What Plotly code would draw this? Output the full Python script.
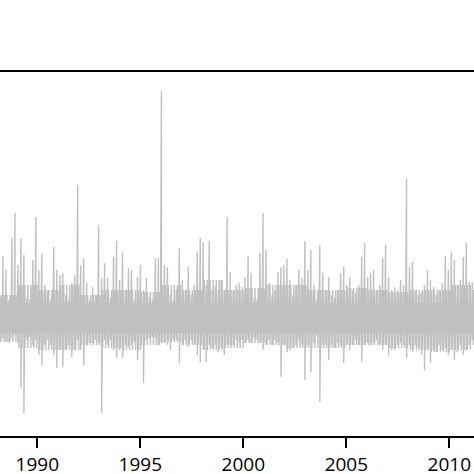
import pandas as pd
import plotly.graph_objects as go

# valeurs max / min, une tous les ~53 jours depuis mars 1988
haut = [2.2, 6.4, 5.0, 2.0, 8.2, 10.7, 5.5, 8.2, 6.5, 2.2,
        2.0, 6.0, 10.3, 5.0, 6.7, 3.5, 3.0, 2.0, 7.3, 5.0,
        4.5, 4.7, 2.5, 2.0, 3.7, 4.5, 13.5, 5.5, 6.1, 3.7,
        2.0, 3.3, 2.5, 9.5, 4.2, 5.7, 4.2, 2.2, 6.3, 7.9,
        4.0, 6.8, 3.0, 5.2, 5.0, 2.0, 4.3, 5.5, 3.0, 4.2,
        2.3, 2.0, 6.2, 6.2, 22.9, 5.5, 5.3, 2.5, 2.0, 3.0,
        7.2, 4.0, 3.0, 5.3, 2.5, 3.5, 6.8, 8.2, 7.8, 3.5,
        7.9, 3.0, 3.3, 3.0, 4.0, 3.0, 10.3, 4.8, 3.0, 3.5,
        3.7, 3.3, 4.3, 6.4, 4.7, 2.2, 2.0, 6.7, 10.7, 7.0,
        3.7, 2.5, 3.0, 4.8, 5.3, 5.5, 6.1, 4.0, 2.5, 3.5,
        5.0, 4.2, 7.9, 5.0, 7.0, 3.5, 2.0, 7.5, 4.7, 3.0,
        4.3, 2.5, 2.2, 3.0, 4.7, 5.3, 3.5, 4.3, 3.0, 2.7,
        3.5, 6.3, 7.7, 4.3, 4.7, 5.0, 3.0, 3.5, 6.2, 7.5,
        4.3, 3.0, 3.3, 3.0, 4.0, 3.5, 14.2, 5.3, 5.8, 3.0,
        2.5, 2.7, 3.5, 5.0, 4.0, 3.3, 2.5, 3.0, 3.7, 6.4,
        5.0, 6.8, 6.0, 3.5, 4.0, 6.3, 7.7, 3.8, 3.8]

bas = [-2.0, -1.8, -2.2, -2.3, -1.8, -1.5, -2.3, -6.8, -9.3, -2.0,
       -1.7, -2.5, -2.0, -3.5, -4.5, -2.5, -2.0, -2.5, -3.5, -4.8,
       -3.0, -4.7, -3.0, -2.5, -3.7, -3.0, -2.0, -3.0, -4.5, -2.5,
       -2.3, -2.3, -2.0, -2.3, -9.3, -2.0, -2.5, -2.0, -3.0, -3.8,
       -3.0, -3.8, -2.5, -2.7, -2.5, -2.2, -4.0, -3.0, -6.3, -2.0,
       -1.8, -1.7, -1.8, -2.5, -2.3, -2.3, -2.5, -3.0, -2.0, -2.0,
       -4.3, -2.5, -2.0, -2.7, -2.0, -2.5, -3.5, -4.2, -3.0, -4.2,
       -2.5, -2.8, -2.5, -3.2, -2.8, -3.5, -2.5, -2.5, -2.5, -2.0,
       -2.3, -2.0, -2.3, -2.0, -2.3, -1.8, -2.0, -2.3, -3.0, -2.5,
       -2.0, -2.5, -2.0, -2.3, -5.7, -2.5, -3.2, -3.0, -2.8, -2.5,
       -2.0, -2.5, -6.0, -2.5, -5.2, -2.3, -1.5, -8.2, -2.5, -2.5,
       -4.0, -2.5, -2.8, -2.3, -2.5, -4.3, -2.5, -3.0, -2.5, -2.0,
       -2.5, -4.2, -2.5, -2.3, -2.5, -2.3, -2.0, -2.5, -3.0, -2.5,
       -3.5, -3.0, -3.0, -2.5, -2.3, -2.5, -3.8, -2.5, -3.2, -2.5,
       -2.8, -3.5, -5.0, -3.0, -4.3, -3.0, -3.2, -2.5, -3.0, -2.8,
       -3.5, -3.0, -4.0, -3.2, -2.5, -3.5, -3.0, -2.5, -2.0]

# niveau typique de la frange (haut / bas) par annee, 1988 -> 2011
annees = list(range(1988, 2012))
frange_haut = [2.5, 3.5, 3.0, 3.5, 2.5, 3.0, 3.0, 2.8, 3.5, 3.0, 4.0, 3.0,
               3.2, 3.5, 3.5, 3.0, 3.0, 3.2, 3.0, 2.8, 3.0, 3.0, 3.5, 3.0]
frange_bas = [-2.2, -2.8, -3.0, -3.0, -2.5, -2.8, -3.0, -2.5, -2.2, -2.5, -3.0, -2.8,
              -2.3, -2.5, -2.8, -2.8, -2.8, -2.5, -2.5, -2.8, -3.0, -3.2, -3.0, -2.5]

# coeur de la bande grise dense
coeur_haut = 1.7
coeur_bas = -1.3

debut = pd.Timestamp("1988-03-10")
pas = pd.Timedelta(days=53)
dates = pd.date_range(debut, periods=len(haut), freq=pas)

# chaque periode : trait max/min, trait de frange, trait du coeur
x, y = [], []
for d, h, b in zip(dates, haut, bas):
    j = annees.index(d.year)
    traits = [(h, b), (frange_haut[j], frange_bas[j]), (coeur_haut, coeur_bas)]
    for k, (u, l) in enumerate(traits):
        t = d + pas * k / 3
        x += [t, t]
        y += [u, l]

fig = go.Figure()

fig.add_trace(go.Scatter(
    x=x,
    y=y,
    mode="lines",
    line=dict(color="#c0c0c0", width=1.4),
    hoverinfo="skip",
))

fig.update_layout(
    width=474,
    height=474,
    margin=dict(l=0, r=0, t=72, b=38),
    paper_bgcolor="white",
    plot_bgcolor="white",
    showlegend=False,
    font=dict(family="Open Sans", size=19, color="black"),
    xaxis=dict(
        range=["1988-03-10", "2011-03-14"],
        tick0="1990-01-01",
        dtick="M60",
        tickformat="%Y",
        ticks="outside",
        ticklen=10,
        tickwidth=2,
        tickcolor="black",
        showline=True,
        linecolor="black",
        linewidth=2,
        mirror=True,
        showgrid=False,
        zeroline=False,
        automargin=False,
    ),
    yaxis=dict(
        range=[-11.6, 24.8],
        showticklabels=False,
        showgrid=False,
        zeroline=False,
        showline=False,
        ticks="",
        automargin=False,
    ),
)

# pas de marge du navigateur, pas de barre d'outils
fig.write_html(
    "out.html",
    config={"displayModeBar": False},
    post_script="document.body.style.margin='0';",
)
